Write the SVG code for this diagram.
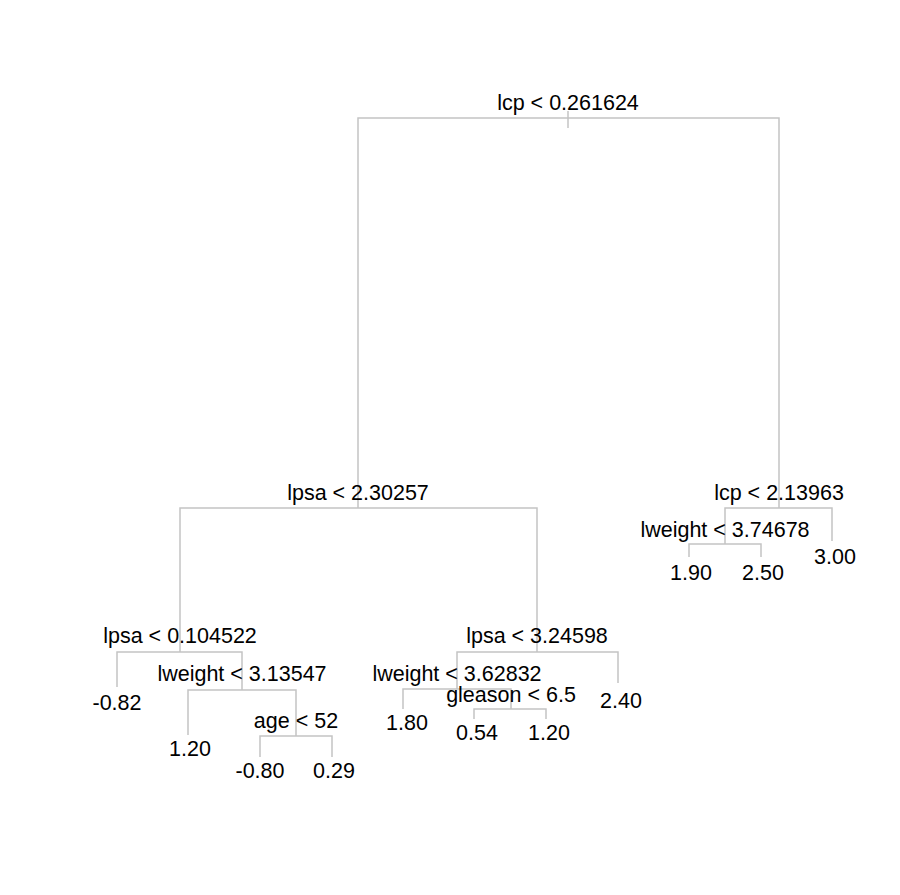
<svg xmlns="http://www.w3.org/2000/svg" width="900" height="895" viewBox="0 0 900 895">
<style>
.e{fill:none;stroke:#c4c4c4;stroke-width:1.5}
text{font-family:"Liberation Sans",Arial,sans-serif;font-size:21.5px;fill:#000;text-anchor:middle}
</style>
<rect width="900" height="895" fill="#fff"/>
<g id="connectors" class="e">
<path d="M568,111V128"/>
<path d="M358,508V118H779V508"/>
<path d="M180,652V508H537V652"/>
<path d="M725,544V508H832V541"/>
<path d="M689,557V544H761V557"/>
<path d="M117,687V652H242V690"/>
<path d="M188,735V690H296V736"/>
<path d="M260,757V736H332V757"/>
<path d="M457,689V652H618V683"/>
<path d="M403,709V689H511V709"/>
<path d="M474,719V709H546V719"/>
</g>
<g id="n1"><text x="568" y="110">lcp &lt; 0.261624</text></g>
<g id="n2"><text x="358" y="500">lpsa &lt; 2.30257</text></g>
<g id="n3"><text x="779" y="500">lcp &lt; 2.13963</text></g>
<g id="n4"><text x="725" y="537">lweight &lt; 3.74678</text></g>
<g id="l1"><text x="691" y="580">1.90</text></g>
<g id="l2"><text x="763" y="580">2.50</text></g>
<g id="l3"><text x="835" y="564">3.00</text></g>
<g id="n5"><text x="180" y="643">lpsa &lt; 0.104522</text></g>
<g id="n6"><text x="242" y="681">lweight &lt; 3.13547</text></g>
<g id="n7"><text x="296" y="728">age &lt; 52</text></g>
<g id="l4"><text x="117" y="710">-0.82</text></g>
<g id="l5"><text x="190" y="756">1.20</text></g>
<g id="l6"><text x="260" y="778">-0.80</text></g>
<g id="l7"><text x="334" y="778">0.29</text></g>
<g id="n8"><text x="537" y="643">lpsa &lt; 3.24598</text></g>
<g id="n9"><text x="457" y="681">lweight &lt; 3.62832</text></g>
<g id="n10"><text x="511" y="702">gleason &lt; 6.5</text></g>
<g id="l8"><text x="407" y="730">1.80</text></g>
<g id="l9"><text x="477" y="740">0.54</text></g>
<g id="l10"><text x="549" y="740">1.20</text></g>
<g id="l11"><text x="621" y="708">2.40</text></g>
</svg>
